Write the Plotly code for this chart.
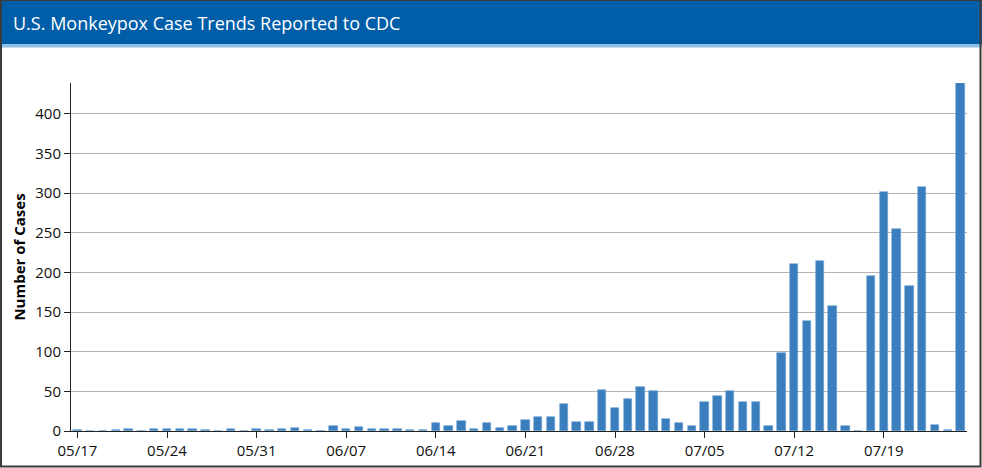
import plotly.graph_objects as go
import pandas as pd

dates = pd.date_range("2022-05-17", "2022-07-25", freq="D")
cases = [
    1, 0, 0, 1, 2, 0, 2, 2, 2, 2, 1, 0, 2, 0,          # 05/17 - 05/30
    3, 1, 2, 4, 1, 0, 6, 2, 5, 2, 3, 3, 1, 1,          # 05/31 - 06/13
    10, 6, 12, 3, 10, 4, 6, 14, 18, 18, 34, 11, 11, 52,  # 06/14 - 06/27
    29, 41, 56, 51, 15, 10, 6, 36, 44, 51, 36, 36, 6, 99,  # 06/28 - 07/11
    211, 139, 215, 158, 6, 0, 195, 301, 255, 183, 308, 8, 1, 439,  # 07/12 - 07/25
]
tick_dates = pd.date_range("2022-05-17", "2022-07-19", freq="7D")
tick_labels = [d.strftime("%m/%d") for d in tick_dates]
y_ticks = [0, 50, 100, 150, 200, 250, 300, 350, 400]

W, H = 982, 468
L, R, T, B = 71, 967, 83, 431
FONT = "Open Sans"

def px(x):
    return (x - L) / (R - L)

def py(y):
    return (B - y) / (B - T)

fig = go.Figure(go.Bar(
    x=dates, y=cases,
    width=0.65 * 86400000,
    marker=dict(color="#3a7ebd", line=dict(color="#6fa3d4", width=0.6)),
    hoverinfo="x+y",
))

shapes = [
    # title bar
    dict(type="rect", xref="paper", yref="paper", x0=px(0), x1=px(W), y0=py(0), y1=py(44),
         fillcolor="#005ea9", line=dict(width=0), layer="below"),
    dict(type="rect", xref="paper", yref="paper", x0=px(0), x1=px(W), y0=py(44), y1=py(47.5),
         fillcolor="#8cc0e8", line=dict(width=0), layer="below"),
    # outer border
    dict(type="rect", xref="paper", yref="paper", x0=px(1), x1=px(980.5), y0=py(0), y1=py(466.5),
         fillcolor="rgba(0,0,0,0)", line=dict(color="#3a3a3a", width=2)),
]

fig.update_layout(
    width=W, height=H,
    margin=dict(l=L, r=W - R, t=T, b=H - B, pad=0, autoexpand=False),
    paper_bgcolor="white", plot_bgcolor="white",
    showlegend=False,
    bargap=0,
    shapes=shapes,
    annotations=[dict(
        text="U.S. Monkeypox Case Trends Reported to CDC",
        xref="paper", yref="paper", x=px(11), y=py(23),
        xanchor="left", yanchor="middle", showarrow=False,
        font=dict(family=FONT, size=18, color="white"),
    )],
    xaxis=dict(
        type="date", automargin=False,
        range=["2022-05-16 12:00", "2022-07-25 12:00"],
        tickvals=list(tick_dates), ticktext=tick_labels,
        ticks="outside", ticklen=6, tickcolor="#222", tickwidth=1,
        showline=True, linecolor="#222", linewidth=1,
        showgrid=False, zeroline=False,
        tickfont=dict(family=FONT, size=15, color="#111"),
    ),
    yaxis=dict(
        range=[0, 439], automargin=False,
        tickvals=y_ticks,
        ticks="outside", ticklen=6, tickcolor="#222", tickwidth=1,
        showline=True, linecolor="#222", linewidth=1,
        showgrid=True, gridcolor="#b4b4b4", gridwidth=1,
        zeroline=False,
        tickfont=dict(family=FONT, size=15, color="#111"),
        title=dict(text="<b>Number of Cases</b>", standoff=6,
                   font=dict(family=FONT, size=15, color="#000")),
    ),
)

fig.write_html("out.html")
